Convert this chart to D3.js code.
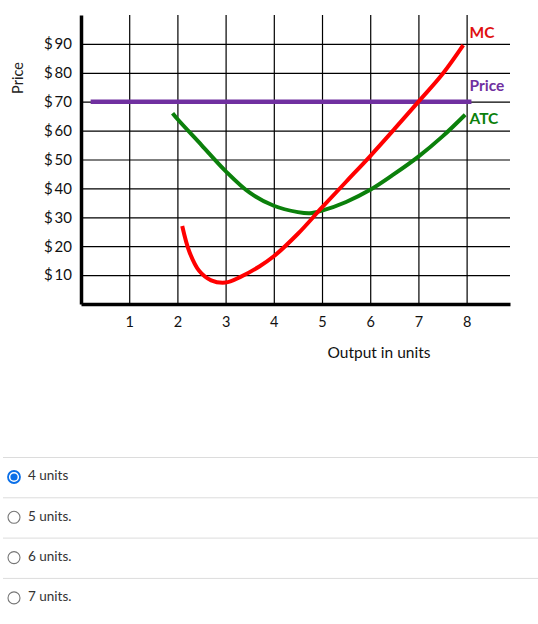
<!DOCTYPE html>
<html>
<head>
<meta charset="utf-8">
<script src="https://cdn.jsdelivr.net/npm/d3@7"></script>
<style>
  body { margin: 0; background: #fff; }
  svg text { font-family: Lato, "Open Sans", sans-serif; }
</style>
</head>
<body>
<div id="chart"></div>
<script>
// ticks
var xTicks = [1, 2, 3, 4, 5, 6, 7, 8];
var yTicks = [10, 20, 30, 40, 50, 60, 70, 80, 90];

// marginal cost
var mcX = [2.1, 2.25, 2.45, 2.7, 3.0, 3.3, 3.7, 4, 4.5, 5, 5.5, 6, 6.5, 7, 7.5, 7.93];
var mcY = [27, 18, 11.5, 8.2, 7.4, 9.3, 13, 16.5, 24.3, 33.4, 42.3, 51.2, 60.5, 70, 79.6, 89.6];

// average total cost
var atcX = [1.9, 2, 2.5, 3, 3.5, 4, 4.5, 4.75, 5, 5.5, 6, 6.5, 7, 7.5, 7.97];
var atcY = [66, 64, 55, 46, 38.5, 34, 31.8, 31.4, 32.3, 35.3, 39.5, 45, 51, 58, 65.5];

// price line
var priceX = [0.2, 8.1];
var priceY = [70, 70];

var options = ["4 units", "5 units.", "6 units.", "7 units."];
var selected = 0;

var W = 538, H = 624;

var x = d3.scaleLinear().domain([0, 8.9]).range([81, 510]);
var y = d3.scaleLinear().domain([0, 100]).range([304, 15]);

var svg = d3.select("#chart").append("svg")
    .attr("width", W)
    .attr("height", H);

// grid + axes
var yAxis = svg.append("g")
    .attr("transform", "translate(" + x(0) + ",0)")
    .call(d3.axisLeft(y).tickValues(yTicks)
        .tickSizeInner(-(x(8.9) - x(0))).tickSizeOuter(0).tickPadding(9)
        .tickFormat((d) => "$\u2009" + d));
yAxis.selectAll(".tick line").attr("stroke", "#000").attr("stroke-width", 1.2);
yAxis.selectAll(".tick text")
    .style("font-size", "15px")
    .attr("fill", "#111");

var xAxis = svg.append("g")
    .attr("transform", "translate(0," + y(0) + ")")
    .call(d3.axisBottom(x).tickValues(xTicks)
        .tickSizeInner(-(y(0) - y(100))).tickSizeOuter(0).tickPadding(12.5));
xAxis.selectAll(".tick line").attr("stroke", "#000").attr("stroke-width", 1.2);
xAxis.selectAll(".tick text")
    .style("font-size", "14.5px")
    .attr("fill", "#111");

yAxis.select(".domain").attr("stroke", "#000").attr("stroke-width", 3.5);
xAxis.select(".domain").attr("stroke", "#000").attr("stroke-width", 3.5);
yAxis.raise();

// axis titles
svg.append("text")
    .attr("transform", "translate(23,78) rotate(-90)")
    .attr("text-anchor", "middle")
    .style("font-size", "14.5px")
    .attr("fill", "#222")
    .text("Price");

svg.append("text")
    .attr("x", 379)
    .attr("y", 357.5)
    .attr("text-anchor", "middle")
    .style("font-size", "15.5px")
    .attr("fill", "#111")
    .text("Output in units");

// curves
function series(xs, ys) {
    return xs.map((d, i) => [d, ys[i]]);
}

var curve = d3.line()
    .x((d) => x(d[0]))
    .y((d) => y(d[1]))
    .curve(d3.curveCatmullRom.alpha(0.5));

svg.append("path")
    .datum(series(priceX, priceY))
    .attr("d", curve)
    .attr("fill", "none")
    .attr("stroke", "#7030a0")
    .attr("stroke-width", 4.5);

svg.append("path")
    .datum(series(atcX, atcY))
    .attr("d", curve)
    .attr("fill", "none")
    .attr("stroke", "#0b800b")
    .attr("stroke-width", 4);

svg.append("path")
    .datum(series(mcX, mcY))
    .attr("d", curve)
    .attr("fill", "none")
    .attr("stroke", "#ff0000")
    .attr("stroke-width", 4);

// curve labels
var labels = [
    {name: "MC", color: "#e01010", v: 92.1},
    {name: "Price", color: "#7030a0", v: 73.7},
    {name: "ATC", color: "#0b800b", v: 62.2}
];
svg.selectAll(".curveLabel")
    .data(labels)
    .enter().append("text")
    .attr("class", "curveLabel")
    .attr("x", 469.5)
    .attr("y", (d) => y(d.v))
    .style("font-size", "15.5px")
    .style("font-weight", "bold")
    .attr("fill", (d) => d.color)
    .text((d) => d.name);

// answer list
var rowTop = 457.5, rowH = 40.3;
var rows = svg.selectAll(".answer")
    .data(options)
    .enter().append("g")
    .attr("class", "answer")
    .attr("transform", (d, i) => "translate(0," + (rowTop + i * rowH) + ")");

rows.append("line")
    .attr("x1", 3).attr("x2", W)
    .attr("y1", 0).attr("y2", 0)
    .attr("stroke", "#dcdcdc")
    .attr("stroke-width", 1);

rows.append("circle")
    .attr("cx", 14)
    .attr("cy", 19.5)
    .attr("r", 6)
    .attr("fill", "#fff")
    .attr("stroke", (d, i) => i === selected ? "#0a6fe8" : "#767676")
    .attr("stroke-width", (d, i) => i === selected ? 1.8 : 1.1);

rows.filter((d, i) => i === selected).append("circle")
    .attr("cx", 14)
    .attr("cy", 19.5)
    .attr("r", 3.6)
    .attr("fill", "#0a6fe8");

rows.append("text")
    .attr("x", 28)
    .attr("y", 18)
    .attr("dy", "0.35em")
    .style("font-size", "13.5px")
    .attr("fill", "#333")
    .text((d) => d);
</script>
</body>
</html>
